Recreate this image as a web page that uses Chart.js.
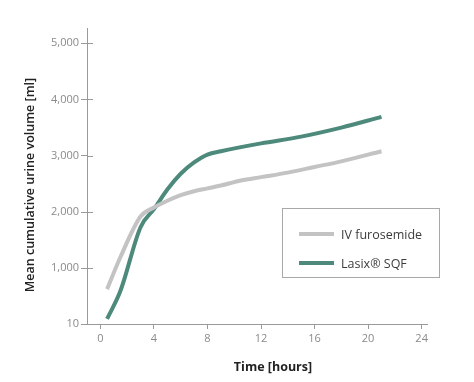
<!DOCTYPE html>
<html>
<head>
<meta charset="utf-8">
<script src="https://cdn.jsdelivr.net/npm/chart.js@4/dist/chart.umd.min.js"></script>
<style>
  html, body { margin:0; padding:0; background:#fff; }
  #wrap { position:relative; width:474px; height:382px; }
  #legend { position:absolute; left:282px; top:208px; width:158px; height:70px; border:1px solid #a8a8a8; box-sizing:border-box; font-family:"Open Sans", sans-serif; font-size:12.5px; color:#3c3c3c; }
  .row { position:absolute; left:16px; height:16px; display:flex; align-items:center; }
  .sw { width:35px; height:4px; margin-right:7px; }
</style>
</head>
<body>
<div id="wrap">
  <canvas id="c" width="474" height="382"></canvas>
  <div id="legend"></div>
</div>
<script>
const seriesNames = ["IV furosemide", "Lasix® SQF"];
const seriesColors = ["#c3c3c3", "#4d8a7c"];
const ivHours = [0.5, 1.5, 3, 4, 5, 6, 7, 8, 9, 10.5, 12, 14, 16, 18, 21];
const ivValues = [630, 1200, 1920, 2080, 2200, 2300, 2370, 2420, 2470, 2560, 2620, 2700, 2800, 2900, 3080];
const sqfHours = [0.5, 1.5, 3, 4, 5, 6, 7, 8, 9, 12, 15, 18, 21];
const sqfValues = [100, 600, 1730, 2050, 2400, 2680, 2880, 3020, 3080, 3220, 3340, 3500, 3690];
const yTicks = [10, 1000, 2000, 3000, 4000, 5000];
const xTicks = [0, 4, 8, 12, 16, 20, 24];
const xTitle = "Time [hours]";
const yTitle = "Mean cumulative urine volume [ml]";

const FONT = '"Open Sans", sans-serif';
const axisColor = "#9a9a9a";

const toPts = (xs, ys) => xs.map((x, i) => ({x, y: ys[i]}));

// legend (HTML)
const lg = document.getElementById('legend');
seriesNames.forEach((n, i) => {
  const r = document.createElement('div');
  r.className = 'row';
  r.style.top = (i === 0 ? 17 : 46) + 'px';
  r.innerHTML = '<span class="sw" style="background:' + seriesColors[i] + '"></span><span>' + n + '</span>';
  lg.appendChild(r);
});

const extras = {
  id: 'extras',
  afterDraw(chart) {
    const ctx = chart.ctx;
    const ys = chart.scales.y, xs = chart.scales.x;
    ctx.save();
    // inward y tick marks
    ctx.strokeStyle = axisColor; ctx.lineWidth = 1;
    yTicks.forEach(v => {
      if (v === yTicks[0]) return;
      const py = Math.round(ys.getPixelForValue(v)) + 0.5;
      ctx.beginPath(); ctx.moveTo(xs.left, py); ctx.lineTo(xs.left + 6, py); ctx.stroke();
    });
    // titles
    ctx.fillStyle = "#222";
    ctx.font = "bold 12.5px " + FONT;
    ctx.textAlign = "center"; ctx.textBaseline = "middle";
    ctx.fillText(xTitle, 273, 367);
    ctx.translate(30, 185);
    ctx.rotate(-Math.PI / 2);
    ctx.font = "600 12.5px " + FONT;
    ctx.fillText(yTitle, 0, 0);
    ctx.restore();
  }
};

new Chart(document.getElementById('c'), {
  type: 'line',
  data: {
    datasets: [
      { label: seriesNames[0], data: toPts(ivHours, ivValues), borderColor: seriesColors[0], borderWidth: 4, pointRadius: 0, cubicInterpolationMode: 'monotone', fill: false },
      { label: seriesNames[1], data: toPts(sqfHours, sqfValues), borderColor: seriesColors[1], borderWidth: 4, pointRadius: 0, cubicInterpolationMode: 'monotone', fill: false }
    ]
  },
  plugins: [extras],
  options: {
    responsive: false,
    animation: false,
    events: [],
    layout: { padding: { left: 0, top: 28, right: 47, bottom: 0 } },
    plugins: { legend: { display: false }, tooltip: { enabled: false } },
    scales: {
      x: {
        type: 'linear', min: -1, max: 24.4,
        afterBuildTicks: s => { s.ticks = xTicks.map(v => ({value: v})); },
        afterFit: s => { s.height = 58; },
        grid: { drawOnChartArea: false, drawTicks: true, tickLength: 5, color: axisColor },
        border: { color: axisColor, width: 1 },
        ticks: { color: "#8a8a8a", font: { family: FONT, size: 11 }, padding: 3, maxRotation: 0 }
      },
      y: {
        type: 'linear', min: 10, max: 5270,
        afterBuildTicks: s => { s.ticks = yTicks.map(v => ({value: v})); },
        afterFit: s => { s.width = 87; },
        grid: { drawOnChartArea: false, drawTicks: true, tickLength: 6, color: axisColor },
        border: { color: axisColor, width: 1 },
        ticks: { color: "#8a8a8a", font: { family: FONT, size: 11 }, padding: 2, callback: v => v.toLocaleString('en-US') }
      }
    }
  }
});
</script>
</body>
</html>
